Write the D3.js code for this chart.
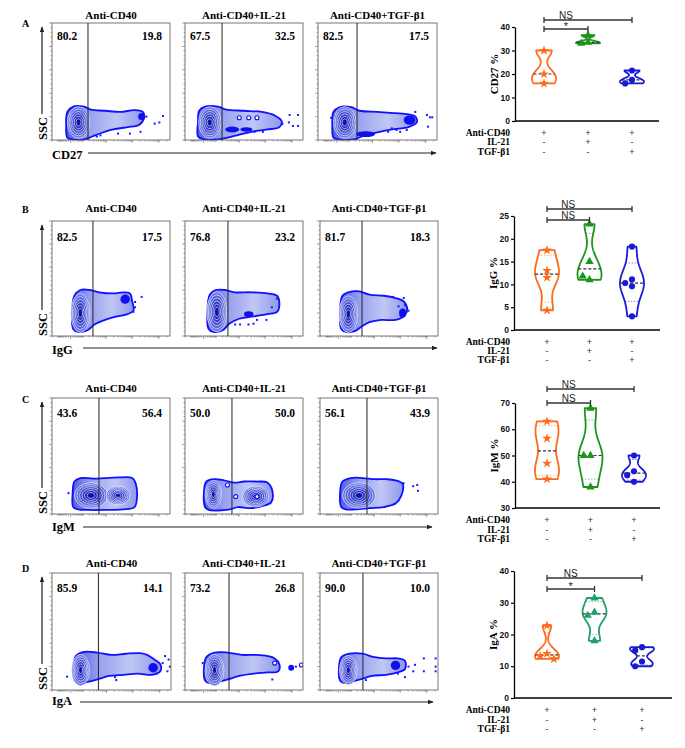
<!DOCTYPE html>
<html>
<head>
<meta charset="utf-8">
<script src="https://cdn.jsdelivr.net/npm/d3@7"></script>
<style>
  body { margin: 0; background: #fff; }
  svg { display: block; }
</style>
</head>
<body>
<script>
// ---- flow plots data ----
const conditions = ["Anti-CD40", "Anti-CD40+IL-21", "Anti-CD40+TGF-β1"];
const panelLetters = ["A", "B", "C", "D"];
const markers = ["CD27", "IgG", "IgM", "IgA"];
const leftPct = [[80.2, 67.5, 82.5], [82.5, 76.8, 81.7], [43.6, 50.0, 56.1], [85.9, 73.2, 90.0]];
const rightPct = [[19.8, 32.5, 17.5], [17.5, 23.2, 18.3], [56.4, 50.0, 43.9], [14.1, 26.8, 10.0]];
const gates = [[30.5, 31.4, 32.8], [34.7, 36.4, 35.6], [39.8, 39.8, 39.8], [39, 37.3, 36.4]];

// blob outlines, % of plot width / height
const outlines = [
  [
    [[13,2],[12,12],[13,24],[18,28.5],[27,28.5],[33,26],[45,25],[58,24],[70,25.5],[77,24],[78,19],[74,13],[64,11],[52,9],[42,6],[34,3],[27,0.5],[17,0.5]],
    [[11,3],[11,15],[12,25],[17,28.5],[28,28.5],[35,26],[50,25],[65,24],[76,21],[82,16],[80,11],[70,9],[56,7],[44,4],[36,2],[28,0.5],[16,0.5]],
    [[13,2],[12,12],[13,24],[18,28],[28,28],[35,25],[50,24],[65,23],[76,22],[82,20],[83,15],[76,11],[62,9],[48,6],[37,3],[30,0.5],[17,0.5]]
  ],
  [
    [[18,6],[17,22],[19,35],[24,40],[32,40],[40,38],[52,37],[60,38],[66,37],[68,30],[69,22],[64,19],[55,17],[45,14],[36,10],[30,5],[22,3.5]],
    [[20,6],[19,22],[21,36],[26,40],[34,40],[42,38],[56,38],[70,37],[78,35],[80,27],[78,21],[70,19],[58,17],[46,15],[38,11],[32,5],[24,3.5]],
    [[18,6],[17,22],[19,35],[24,38],[32,39],[42,36],[54,35],[64,33],[71,30],[74,24],[72,18],[64,14],[52,14],[42,12],[35,8],[30,4.5],[22,3.5]]
  ],
  [
    [[18,6],[17.5,18],[19,28],[24,31],[35,30.5],[45,31],[56,31.5],[68,31],[71,26],[72,14],[70,6],[60,4],[45,3.5],[30,3.5],[22,4]],
    [[17,6],[16,18],[18,28],[25,30],[33,29],[42,27],[50,28],[60,28],[70,27],[74,20],[73,10],[66,7],[55,5],[45,6],[38,4],[28,3],[20,3.5]],
    [[18,6],[17,18],[19,28],[26,31],[36,31],[46,30],[56,30],[64,29],[70,26],[69,16],[64,9],[54,6],[42,5],[30,4],[22,4]]
  ],
  [
    [[19,8],[18,18],[20,29],[27,32.5],[38,32],[50,30],[62,31],[74,31.5],[80,30],[86,26],[91,22],[91,16],[84,13],[72,14],[60,13],[48,12],[38,9],[30,7],[22,6]],
    [[17,8],[16,18],[18,28],[25,32],[36,32],[48,30],[60,30],[70,29],[76,27],[80,22],[79,16],[70,15],[58,14],[46,12],[36,9],[28,7],[20,6]],
    [[17,8],[16,18],[18,28],[25,31],[36,31],[46,28],[56,27],[66,27],[72,25],[72,18],[66,15],[56,13],[44,12],[34,9],[26,7],[20,6]]
  ]
];
// dense cores [cx, cy, rx, ry]
const cores = [
  [[[22.5,15,9.5,13.5]], [[21,15,9.5,13.5]], [[22.5,15,9.5,13.5]]],
  [[[24,20,8,17]], [[27,21,8.5,17.5]], [[24,19,8,16]]],
  [[[33,16,14,11],[56,16,10,8]], [[24,17,7,12],[60,15,11,9]], [[33,16,14,11]]],
  [[[24,17,7.5,13.5]], [[25,17,8,13.5]], [[24,17,7.5,12.5]]]
];
const darkSpots = [
  [[[76,20,3,3]], [[40,9,6,2.5],[52,9,5,2]], [[77,17,5,4],[40,5,8,2.5]]],
  [[[62,32,4,4]], [[54,19,4,2.5]], [[70,20,3,4]]],
  [[], [], []],
  [[[85,19,4,4]], [[90,19,2.5,2.5]], [[64,21,4,4]]]
];
const holes = [
  [[], [[46,19],[54,19],[61,19]], []],
  [[], [], []],
  [[], [[36,25],[43,15],[61,15]], []],
  [[], [[76,23],[98.6,21.4]], []]
];
const outliers = [
  [
    [[87,14],[94,20.5],[91,15],[80,20],[41,4],[38,3],[56,5.5],[66,5.5],[75,7]],
    [[88.7,21.4],[95.8,21.4],[88,15],[91.5,12],[95.8,12],[82.5,13.7],[59,7],[66,7]],
    [[11,19],[81.7,24],[91.5,21.4],[94,19.4],[96,19.4],[92.4,11.4],[59,7],[66,8.6],[69,7],[74.6,8.6],[62,10]]
  ],
  [
    [[76,34],[70.4,29.6],[69,21],[70.4,25]],
    [[42.5,10],[46.7,10],[53.8,10],[58,10.7],[61,14],[69,14],[73.6,25],[77.9,32.5]],
    [[62,34],[71,33],[72,26.7],[73.7,23.8],[66.6,25.8],[75,22]]
  ],
  [
    [[14,18]],
    [],
    [[70.8,26.5],[79,24],[82.4,25],[83,20],[63,8.6]]
  ],
  [
    [[12.7,11.4],[95,29],[98,26],[93,23],[99,20],[88,14],[97,16],[54,8.5],[53,11]],
    [[15,23],[74,9],[94,20]],
    [[75,20],[80.5,21.5],[88,27],[98,27],[98,20],[79,16],[88,16],[98,16],[66,14],[72,11],[39,8.5]]
  ]
];

// ---- violin data ----
const groups = ["Anti-CD40", "Anti-CD40+IL-21", "Anti-CD40+TGF-β1"];
const cd27 = [[30, 20, 16], [36.5, 33.5, 33], [21.5, 17.5, 16]];
const igg = [[17.5, 13, 11.5, 4.3], [23.2, 15, 11, 11.8], [18.3, 11.1, 10.3, 9.6, 3.0]];
const igm = [[63, 56.5, 47, 41], [68, 50, 50, 38], [50, 44, 42.5, 40]];
const iga = [[22.8, 14, 13.2, 12.3], [31.5, 27, 26, 18], [16, 15, 11.5, 10]];
const tableRows = ["Anti-CD40", "IL-21", "TGF-β1"];
const tableSigns = [["+", "+", "+"], ["-", "+", "-"], ["-", "-", "+"]];
const sigLabels = [["*", "NS"], ["NS", "NS"], ["NS", "NS"], ["*", "NS"]];

const W = 685, H = 748;
const serif = "'Liberation Serif','Times New Roman',serif";
const sans = "'Liberation Sans',Arial,sans-serif";

const svg = d3.select("body").append("svg").attr("width", W).attr("height", H);
const defs = svg.append("defs");

const grad = defs.append("linearGradient").attr("id", "tailFill")
  .attr("x1", 0).attr("x2", 1).attr("y1", 0).attr("y2", 0);
[[0, "#4f5de0"], [0.3, "#98a2ef"], [0.65, "#c0c7f5"], [1, "#8f99ee"]]
  .forEach(([o, c]) => grad.append("stop").attr("offset", o).attr("stop-color", c));

defs.append("marker").attr("id", "arrow")
  .attr("viewBox", "0 0 10 10").attr("refX", 9).attr("refY", 5)
  .attr("markerWidth", 5).attr("markerHeight", 5).attr("orient", "auto")
  .append("path").attr("d", "M0,1L10,5L0,9Z").attr("fill", "#222");

// ---- flow rows ----
const flowRows = [
  { top: 23, bottom: 140, titleY: 19, valY: 40, letterY: 27, xLabelY: 159, arrowY: 153, arrowX0: 88, arrowX1: 436, boxes: [[52, 170], [185, 303], [318, 437]] },
  { top: 221, bottom: 336, titleY: 212, valY: 241, letterY: 213, xLabelY: 354, arrowY: 348, arrowX0: 83, arrowX1: 437, boxes: [[52, 170], [185, 303], [320, 438]] },
  { top: 398, bottom: 514, titleY: 392, valY: 417, letterY: 403, xLabelY: 531, arrowY: 527, arrowX0: 83, arrowX1: 432, boxes: [[52, 170], [185, 303], [320, 438]] },
  { top: 573, bottom: 690, titleY: 567, valY: 592, letterY: 572, xLabelY: 705, arrowY: 702, arrowX0: 80, arrowX1: 433, boxes: [[52, 171], [185, 303], [320, 438]] }
];

const fmt = d3.format(".1f");
const ringColor = d3.interpolateRgb("#6c78e8", "#0a12b0");

// x tick values for the biexponential-like axis
const xMinor = [];
[10, 100, 1000, 10000, 100000].forEach(d => {
  d3.range(1, 10).forEach(m => {
    const v = d * m;
    if (v <= 262144) xMinor.push(v);
    if (v <= 200) xMinor.push(-v);
  });
});
const xMajor = [0, 1000, 10000, 100000];

flowRows.forEach((row, r) => {
  const g = svg.append("g");

  g.append("text").attr("x", 22).attr("y", row.letterY)
    .attr("font-family", serif).attr("font-weight", "bold").attr("font-size", 10)
    .text(panelLetters[r]);

  row.boxes.forEach(([x0, x1], c) => {
    const bx = d3.scaleLinear([0, 100], [x0, x1]);
    const by = d3.scaleLinear([0, 100], [row.bottom, row.top]);
    const sx = d3.scaleSymlog().constant(50).domain([-200, 262144]).range([x0, x1]);
    const sy = d3.scaleLinear([0, 250000], [row.bottom, row.top]);

    const clipId = `clip${r}${c}`;
    defs.append("clipPath").attr("id", clipId).append("rect")
      .attr("x", x0).attr("y", row.top).attr("width", x1 - x0).attr("height", row.bottom - row.top);

    const plot = g.append("g").attr("clip-path", `url(#${clipId})`);

    const line = d3.line().x(d => bx(d[0])).y(d => by(d[1])).curve(d3.curveCatmullRomClosed.alpha(0.5));
    plot.append("path")
      .attr("d", line(outlines[r][c]))
      .attr("fill", "url(#tailFill)")
      .attr("stroke", "#1010ff")
      .attr("stroke-width", 1.8)
      .attr("stroke-linejoin", "round");

    plot.selectAll(".dark").data(darkSpots[r][c]).enter().append("ellipse")
      .attr("cx", d => bx(d[0])).attr("cy", d => by(d[1]))
      .attr("rx", d => bx(d[2]) - bx(0)).attr("ry", d => by(0) - by(d[3]))
      .attr("fill", "#1010ee");

    cores[r][c].forEach(core => {
      const rings = d3.range(6);
      plot.append("g").selectAll("ellipse").data(rings).enter().append("ellipse")
        .attr("cx", bx(core[0]))
        .attr("cy", by(core[1]))
        .attr("rx", i => (bx(core[2]) - bx(0)) * (1 - i / 6.5))
        .attr("ry", i => (by(0) - by(core[3])) * (1 - i / 6.5))
        .attr("fill", i => ringColor(i / 5))
        .attr("stroke", "#fff")
        .attr("stroke-width", 0.6);
    });

    plot.selectAll(".hole").data(holes[r][c]).enter().append("circle")
      .attr("cx", d => bx(d[0])).attr("cy", d => by(d[1])).attr("r", 2)
      .attr("fill", "#fff").attr("stroke", "#1010ff").attr("stroke-width", 1.1);

    plot.selectAll(".dot").data(outliers[r][c]).enter().append("rect")
      .attr("x", d => bx(d[0]) - 1).attr("y", d => by(d[1]) - 1)
      .attr("width", 2).attr("height", 2).attr("fill", "#1a1aff");

    // frame
    g.append("rect").attr("x", x0).attr("y", row.top)
      .attr("width", x1 - x0).attr("height", row.bottom - row.top)
      .attr("fill", "none").attr("stroke", "#555").attr("stroke-width", 0.8);

    // gate
    g.append("line")
      .attr("x1", bx(gates[r][c])).attr("x2", bx(gates[r][c]))
      .attr("y1", row.top).attr("y2", row.bottom)
      .attr("stroke", "#222").attr("stroke-width", 1);

    // ticks
    const tk = g.append("g").attr("stroke", "#666").attr("stroke-width", 0.6);
    tk.selectAll(".ym").data(d3.range(0, 250001, 10000)).enter().append("line")
      .attr("x1", d => d % 50000 === 0 ? x0 - 3 : x0 - 1.5).attr("x2", x0)
      .attr("y1", d => sy(d)).attr("y2", d => sy(d));
    tk.selectAll(".xm").data(xMinor).enter().append("line")
      .attr("x1", d => sx(d)).attr("x2", d => sx(d))
      .attr("y1", row.bottom).attr("y2", row.bottom + 1.5);
    tk.selectAll(".xM").data(xMajor).enter().append("line")
      .attr("x1", d => sx(d)).attr("x2", d => sx(d))
      .attr("y1", row.bottom).attr("y2", row.bottom + 3);

    // title
    g.append("text").attr("x", (x0 + x1) / 2).attr("y", row.titleY)
      .attr("text-anchor", "middle")
      .attr("font-family", serif).attr("font-weight", "bold").attr("font-size", 11)
      .text(conditions[c]);

    g.append("text").attr("x", x0 + 5).attr("y", row.valY)
      .attr("font-family", serif).attr("font-weight", "bold").attr("font-size", 11.5)
      .text(fmt(leftPct[r][c]));
    g.append("text").attr("x", x1 - 8).attr("y", row.valY)
      .attr("text-anchor", "end")
      .attr("font-family", serif).attr("font-weight", "bold").attr("font-size", 11.5)
      .text(fmt(rightPct[r][c]));
  });

  // SSC axis label and arrow
  g.append("text")
    .attr("transform", `translate(46.5,${row.bottom}) rotate(-90)`)
    .attr("font-family", serif).attr("font-weight", "bold").attr("font-size", 12.5)
    .text("SSC");
  g.append("line")
    .attr("x1", 42).attr("x2", 42)
    .attr("y1", row.bottom - 26).attr("y2", row.top + 4)
    .attr("stroke", "#222").attr("stroke-width", 1.2)
    .attr("marker-end", "url(#arrow)");

  // marker axis label and arrow
  g.append("text").attr("x", 52).attr("y", row.xLabelY)
    .attr("font-family", serif).attr("font-weight", "bold").attr("font-size", 12.5)
    .text(markers[r]);
  g.append("line")
    .attr("x1", row.arrowX0).attr("x2", row.arrowX1)
    .attr("y1", row.arrowY).attr("y2", row.arrowY)
    .attr("stroke", "#222").attr("stroke-width", 1.2)
    .attr("marker-end", "url(#arrow)");
});

// ---- violin panels ----
const violinPanels = [
  { data: cd27, label: "CD27 %", domain: [0, 40], step: 10, x0: 515, x1: 659, yBottom: 121, yTop: 27, catRange: [544, 632], rows: [132, 141, 151], brackets: [29, 20], green: "#1c951c" },
  { data: igg, label: "IgG %", domain: [0, 25], step: 5, x0: 514, x1: 660, yBottom: 330, yTop: 216, catRange: [547, 632], rows: [341, 350, 359], brackets: [220, 209], green: "#1c951c" },
  { data: igm, label: "IgM %", domain: [30, 70], step: 10, x0: 515, x1: 660, yBottom: 508, yTop: 403, catRange: [547, 634], rows: [519, 529, 538], brackets: [403, 389], green: "#1c951c" },
  { data: iga, label: "IgA %", domain: [0, 40], step: 10, x0: 514, x1: 672, yBottom: 698, yTop: 571, catRange: [547, 642], rows: [709, 719, 728], brackets: [589, 578], green: "#22a06b" }
];

const symbols = [d3.symbolStar, d3.symbolTriangle, d3.symbolCircle];

// quantile the GraphPad way: position p*(n+1)
function quant(vals, p) {
  const s = vals.slice().sort(d3.ascending);
  const n = s.length;
  let h = p * (n + 1) - 1;
  h = Math.max(0, Math.min(n - 1, h));
  const lo = Math.floor(h), hi = Math.ceil(h);
  return s[lo] + (s[hi] - s[lo]) * (h - lo);
}

violinPanels.forEach((p, pi) => {
  const g = svg.append("g");
  const y = d3.scaleLinear(p.domain, [p.yBottom, p.yTop]);
  const x = d3.scalePoint().domain(groups).range(p.catRange);
  const colors = ["#ff6a1a", p.green, "#1a1ad4"];

  const yAxis = g.append("g").attr("transform", `translate(${p.x0},0)`)
    .call(d3.axisLeft(y)
      .tickValues(d3.range(p.domain[0], p.domain[1] + 0.001, p.step))
      .tickSize(3).tickSizeOuter(0).tickPadding(2));
  yAxis.select(".domain").attr("stroke-width", 1.3);
  yAxis.selectAll(".tick line").attr("stroke-width", 1.2);
  yAxis.selectAll("text").attr("font-family", sans).attr("font-weight", "bold")
    .attr("font-size", 8.5).attr("fill", "#111");

  g.append("line").attr("x1", p.x0).attr("x2", p.x1)
    .attr("y1", p.yBottom).attr("y2", p.yBottom)
    .attr("stroke", "#000").attr("stroke-width", 1.3);

  g.append("text")
    .attr("transform", `translate(${p.x0 - 17},${(p.yTop + p.yBottom) / 2}) rotate(-90)`)
    .attr("text-anchor", "middle")
    .attr("font-family", serif).attr("font-weight", "bold").attr("font-size", 11)
    .text(p.label);

  p.data.forEach((vals, gi) => {
    const cx = x(groups[gi]);
    const col = colors[gi];
    const lo = d3.min(vals), hi = d3.max(vals);
    const bw = (hi - lo) * 0.2;
    const dens = v => d3.sum(vals, u => Math.exp(-0.5 * ((v - u) / bw) ** 2));
    const steps = d3.range(0, 61).map(i => lo + (hi - lo) * i / 60);
    const mx = d3.max(steps, dens);
    const half = 12;
    const width = v => dens(v) / mx * half;

    const area = d3.area()
      .y(d => y(d))
      .x0(d => cx - width(d))
      .x1(d => cx + width(d));
    g.append("path").attr("d", area(steps))
      .attr("fill", "#fff").attr("stroke", col).attr("stroke-width", 1.8)
      .attr("stroke-linejoin", "round");

    [0.25, 0.75].forEach(q => {
      const v = quant(vals, q);
      g.append("line")
        .attr("x1", cx - width(v)).attr("x2", cx + width(v))
        .attr("y1", y(v)).attr("y2", y(v))
        .attr("stroke", col).attr("stroke-opacity", 0.55)
        .attr("stroke-width", 1).attr("stroke-dasharray", "1.5,1.5");
    });
    const med = quant(vals, 0.5);
    g.append("line")
      .attr("x1", cx - width(med)).attr("x2", cx + width(med))
      .attr("y1", y(med)).attr("y2", y(med))
      .attr("stroke", "#333").attr("stroke-width", 1.2).attr("stroke-dasharray", "3,2");

    // simple swarm so overlapping points spread sideways
    const placed = [];
    const r = 3.4;
    vals.forEach(v => {
      const py = y(v);
      let dx = 0;
      for (const off of [0, -1, 1, -2, 2]) {
        const px = off * r * 2;
        if (placed.every(pt => Math.hypot(pt[0] - px, pt[1] - py) >= r * 2)) { dx = px; break; }
      }
      placed.push([dx, py]);
      g.append("path")
        .attr("d", d3.symbol(symbols[gi], 30)())
        .attr("transform", `translate(${cx + dx},${py})`)
        .attr("fill", col);
    });
  });

  // treatment table
  tableRows.forEach((lab, ri) => {
    g.append("text").attr("x", 510).attr("y", p.rows[ri] + 3.5)
      .attr("text-anchor", "end")
      .attr("font-family", serif).attr("font-weight", "bold").attr("font-size", 9.5)
      .text(lab);
    tableSigns[ri].forEach((s, ci) => {
      g.append("text").attr("x", x(groups[ci])).attr("y", p.rows[ri] + 3.5)
        .attr("text-anchor", "middle")
        .attr("font-family", sans).attr("font-size", 9).attr("fill", "#333")
        .text(s);
    });
  });

  // significance brackets: control vs IL-21, control vs TGF-β1
  const textX = (x(groups[0]) + x(groups[1])) / 2;
  [1, 2].forEach((k, bi) => {
    const by = p.brackets[bi];
    const xa = x(groups[0]), xb = x(groups[k]);
    const bg = g.append("g").attr("stroke", "#333").attr("stroke-width", 1.3);
    bg.append("line").attr("x1", xa).attr("x2", xb).attr("y1", by).attr("y2", by);
    bg.append("line").attr("x1", xa).attr("x2", xa).attr("y1", by - 3).attr("y2", by + 3);
    bg.append("line").attr("x1", xb).attr("x2", xb).attr("y1", by - 3).attr("y2", by + 3);
    const lab = sigLabels[pi][bi];
    g.append("text").attr("x", textX)
      .attr("y", lab === "*" ? by + 1 : by - 1.5)
      .attr("text-anchor", "middle")
      .attr("font-family", sans)
      .attr("font-size", lab === "*" ? 11 : 10)
      .attr("fill", "#222")
      .text(lab);
  });
});
</script>
</body>
</html>
